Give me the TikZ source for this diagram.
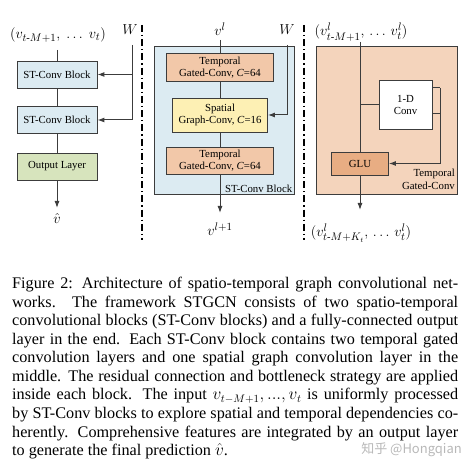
\documentclass[tikz,border=0pt]{standalone}
\usepackage{amsmath}
\usepackage{fontspec}
\setmainfont{Liberation Serif}
\newfontfamily\cjk{Noto Sans CJK SC}
\usepackage{tikz}
\usetikzlibrary{calc, positioning, arrows.meta}

\definecolor{blockblue}{HTML}{DCEBF2}
\definecolor{outgreen}{HTML}{D7E4BD}
\definecolor{tempor}{HTML}{F2C8A9}
\definecolor{spatyel}{HTML}{FDF0B4}
\definecolor{gatebg}{HTML}{F4D4BC}
\definecolor{glucol}{HTML}{E8AD83}
\definecolor{edge}{HTML}{3C3C3C}

\tikzset{
	box/.style = {draw=edge, line width=0.9pt, inner sep=1pt, align=center, font=\fontsize{10.8}{12}\selectfont},
	stblock/.style = {box, fill=blockblue, minimum width=80pt, minimum height=27pt},
	tlayer/.style = {box, fill=tempor, minimum width=107pt, minimum height=28pt},
	sep/.style = {line width=1.1pt, dash pattern=on 7pt off 3pt on 1.2pt off 3pt},
	lbl/.style = {font=\fontsize{15}{17}\selectfont, inner sep=0pt},
	flow/.style = {line width=1pt, draw=edge},
}

\begin{document}
\begin{tikzpicture}[x=1pt, y=-1pt, >={Latex[length=7pt, width=5pt]}]
	\useasboundingbox (0,0) rectangle (474,470);

	% left: whole network
	\node[lbl] (inp) at (58,35) {$(v_{t\text{-}M+1},\ \dots\ v_t)$};
	\node[stblock] (st1) at (57,74.5) {ST-Conv Block};
	\node[stblock] (st2) at (57,120) {ST-Conv Block};
	\node[box, fill=outgreen, minimum width=80pt, minimum height=27pt] (outl) at (57,166.5) {Output Layer};
	\node[lbl] (vhat) at (57,219) {$\hat{v}$};
	\node[lbl] (wa) at (130,30) {$W$};
	\coordinate (wa0) at (132,45);

	\draw[flow] (57,50) -- (st1);
	\draw[flow] (st1) -- (st2);
	\draw[flow] (st2) -- (outl);
	\draw[flow, ->] (outl) -- (57,208);
	\draw[flow, ->] (wa0) |- (st2.east);
	\draw[flow, ->] (wa0 |- st1.east) -- (st1.east);

	\draw[sep] (142,25) -- (142,240);

	% middle: one ST-Conv block
	\node[box, fill=blockblue, minimum width=140pt, minimum height=148pt] (blk) at (224,120) {};
	\node[lbl] (vl) at (220,29) {$v^{l}$};
	\node[tlayer] (tc1) at (220,67.5) {Temporal\\Gated-Conv, \textit{C}=64};
	\node[box, fill=spatyel, minimum width=95pt, minimum height=34pt] (sp) at (220,115) {Spatial\\Graph-Conv, \textit{C}=16};
	\node[tlayer, minimum height=27pt] (tc2) at (220,160.5) {Temporal\\Gated-Conv, \textit{C}=64};
	\node[anchor=south east, inner sep=2pt, font=\fontsize{10.8}{12}\selectfont] at (blk.south east) {ST-Conv Block};
	\node[lbl] (vl1) at (220,229) {$v^{l+1}$};
	\node[lbl] (wb) at (287,30) {$W$};
	\coordinate (wb0) at (287,45);

	\draw[flow] (220,40) -- (tc1);
	\draw[flow] (tc1) -- (sp);
	\draw[flow] (sp) -- (tc2);
	\draw[flow, ->] (tc2) -- (220,213);
	\draw[flow, ->] (wb0) |- (sp.east);

	\draw[sep] (304,25) -- (304,240);

	% right: temporal gated conv
	\node[box, fill=gatebg, minimum width=141pt, minimum height=148pt] (gate) at (386.5,120) {};
	\node[lbl] (inl) at (361,32) {$(v^{l}_{t\text{-}M+1},\,\dots\,v^{l}_t)$};
	\node[box, fill=white, minimum width=53pt, minimum height=49pt] (conv) at (405.5,104.5) {1-D\\Conv};
	\node[box, fill=glucol, minimum width=57pt, minimum height=23pt] (glu) at (360,163.5) {GLU};
	\node[anchor=east, align=right, inner sep=0pt, font=\fontsize{10.8}{13}\selectfont] (gtxt) at (455,179) {Temporal\\Gated-Conv};
	\node[lbl] (outr) at (361,233) {$(v^{l}_{t\text{-}M+K_t},\,\dots\,v^{l}_t)$};
	\coordinate (rr) at (440,88);

	\draw[flow] (360,42) -- (glu);
	\draw[flow] (360,104.5) -- (conv.west);
	\draw[flow] ([yshift=16.5pt]conv.east) -- (rr);
	\draw[flow] ([yshift=-9.5pt]conv.east) -- (440,114);
	\draw[flow, ->] (rr) |- (glu.east);
	\draw[flow, ->] (glu) -- (360,210);

	% caption
	\node[anchor=north west, inner sep=0pt, text width=446pt, align=justify,
		font=\fontsize{16.2}{18.55}\selectfont] (cap) at (12,277) {%
		\hyphenpenalty=10000 \exhyphenpenalty=10000 \tolerance=9999
		Figure 2: Architecture of spatio-temporal graph convolutional net-\linebreak
		works. The framework STGCN consists of two spatio-temporal\linebreak
		convolutional blocks (ST-Conv blocks) and a fully-connected output\linebreak
		layer in the end. Each ST-Conv block contains two temporal gated\linebreak
		convolution layers and one spatial graph convolution layer in the\linebreak
		middle. The residual connection and bottleneck strategy are applied\linebreak
		inside each block. The input $v_{t-M+1}, ..., v_t$ is uniformly processed\linebreak
		by ST-Conv blocks to explore spatial and temporal dependencies co-\linebreak
		herently. Comprehensive features are integrated by an output layer\linebreak
		to generate the final prediction $\hat{v}$.};
	\node[anchor=east, text=black!28, font=\cjk\fontsize{13}{14}\selectfont, inner sep=0pt] (wm) at (462,450) {知乎 @Hongqian};
\end{tikzpicture}
\end{document}
